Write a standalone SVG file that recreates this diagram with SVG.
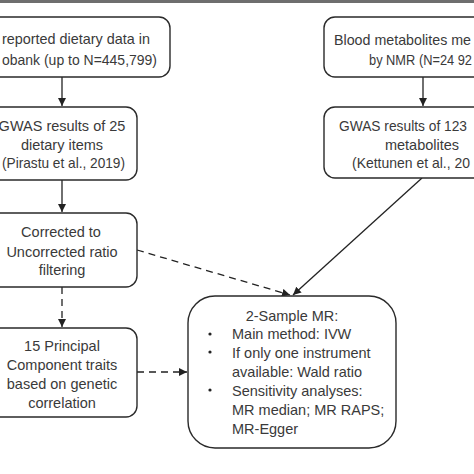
<svg xmlns="http://www.w3.org/2000/svg" width="474" height="474" viewBox="0 0 474 474">
<style>
.box{fill:#fff;stroke:#2a2a2a;stroke-width:1.4}
.t{font-family:"Liberation Sans",Arial,sans-serif;font-size:14.5px;fill:#3a3a3a}
.c{text-anchor:middle}
.e{text-anchor:end}
.ln{stroke:#222;stroke-width:1.3;fill:none}
.d{stroke-dasharray:7,5}
</style>
<defs>
<marker id="ah" markerUnits="userSpaceOnUse" markerWidth="10" markerHeight="10" refX="8" refY="4" orient="auto">
<path d="M0,0 L8,4 L0,8 Z" fill="#222"/>
</marker>
</defs>
<rect x="0" y="0" width="474" height="3" fill="#6e6e6e"/>
<g id="connectors">
<line class="ln" x1="62" y1="77" x2="62" y2="106" marker-end="url(#ah)"/>
<line class="ln" x1="62" y1="180" x2="62" y2="212" marker-end="url(#ah)"/>
<line class="ln d" x1="62" y1="287" x2="62" y2="327" marker-end="url(#ah)"/>
<line class="ln d" x1="137" y1="372" x2="187" y2="372" marker-end="url(#ah)"/>
<line class="ln d" x1="137" y1="250" x2="290" y2="295" marker-end="url(#ah)"/>
<line class="ln" x1="422" y1="178" x2="293" y2="295" marker-end="url(#ah)"/>
<line class="ln" x1="423" y1="77" x2="423" y2="106" marker-end="url(#ah)"/>
</g>
<g id="n1">
<rect class="box" x="-50" y="17" width="220" height="60" rx="11"/>
<text class="t" x="2" y="44" textLength="148" lengthAdjust="spacingAndGlyphs">reported dietary data in</text>
<text class="t" x="2" y="65" textLength="155" lengthAdjust="spacingAndGlyphs">obank (up to N=445,799)</text>
</g>
<g id="n2">
<rect class="box" x="-50" y="107" width="187" height="73" rx="11"/>
<text class="t c" x="62" y="131">GWAS results of 25</text>
<text class="t c" x="62" y="150">dietary items</text>
<text class="t" x="2" y="168" textLength="123" lengthAdjust="spacingAndGlyphs">(Pirastu et al., 2019)</text>
</g>
<g id="n3">
<rect class="box" x="-50" y="213" width="187" height="74" rx="11"/>
<text class="t c" x="61" y="237">Corrected to</text>
<text class="t c" x="62" y="257">Uncorrected ratio</text>
<text class="t c" x="62" y="275">filtering</text>
</g>
<g id="n4">
<rect class="box" x="-50" y="328" width="187" height="89" rx="11"/>
<text class="t c" x="62" y="351">15 Principal</text>
<text class="t c" x="62" y="370">Component traits</text>
<text class="t c" x="62" y="389">based on genetic</text>
<text class="t c" x="62" y="408">correlation</text>
</g>
<g id="n5">
<rect class="box" x="324" y="17" width="200" height="60" rx="11"/>
<text class="t" x="334" y="45" textLength="137" lengthAdjust="spacingAndGlyphs">Blood metabolites me</text>
<text class="t" x="369" y="65" font-size="13.5" textLength="103" lengthAdjust="spacingAndGlyphs">by NMR (N=24 92</text>
</g>
<g id="n6">
<rect class="box" x="324" y="107" width="200" height="71" rx="11"/>
<text class="t" x="339" y="131" textLength="128" lengthAdjust="spacingAndGlyphs">GWAS results of 123</text>
<text class="t c" x="422" y="150">metabolites</text>
<text class="t" x="352" y="168" textLength="118" lengthAdjust="spacingAndGlyphs">(Kettunen et al., 20</text>
</g>
<g id="n7">
<rect class="box" x="188" y="296" width="208" height="152" rx="27"/>
<text class="t c" x="292" y="321">2-Sample MR:</text>
<circle cx="210" cy="334" r="1.6" fill="#222"/>
<circle cx="210" cy="352" r="1.6" fill="#222"/>
<circle cx="210" cy="390" r="1.6" fill="#222"/>
<text class="t" x="232" y="339">Main method: IVW</text>
<text class="t" x="232" y="358">If only one instrument</text>
<text class="t" x="232" y="377">available: Wald ratio</text>
<text class="t" x="232" y="396">Sensitivity analyses:</text>
<text class="t" x="232" y="415">MR median; MR RAPS;</text>
<text class="t" x="232" y="434">MR-Egger</text>
</g>
</svg>
